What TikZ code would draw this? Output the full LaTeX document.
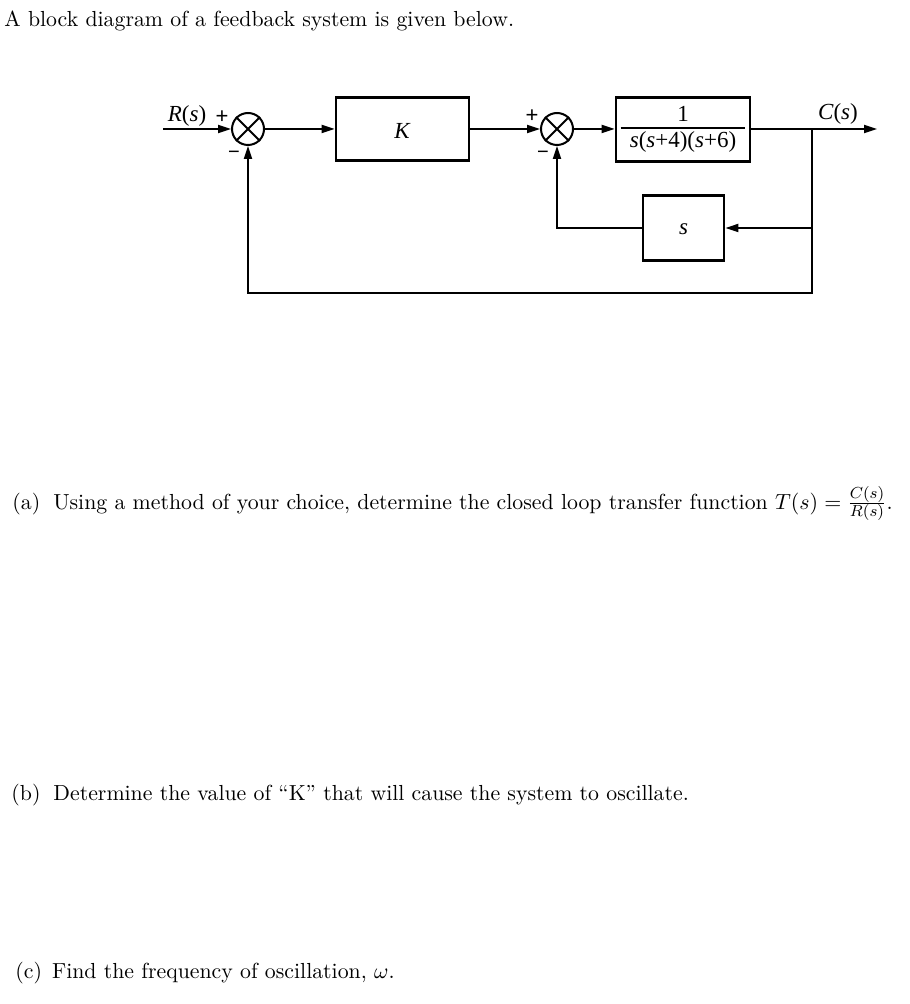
\documentclass[tikz,border=0pt]{standalone}
\usepackage{fontspec}
\newfontfamily\tms{Liberation Serif}
\newfontfamily\arl{Liberation Sans}
\usetikzlibrary{arrows.meta,calc}
\begin{document}
\begin{tikzpicture}[x=0.5pt,y=-0.5pt,
  blk/.style={draw, line width=1.3pt, rectangle, inner sep=0},
  sumj/.style={draw, circle, line width=1pt, minimum size=16pt, inner sep=0},
  sig/.style={line width=0.9pt, -{Triangle[length=6.5pt,width=4pt]}},
  lab/.style={font=\tms\fontsize{11.5}{13}\selectfont, inner sep=0},
  pm/.style={font=\arl\fontsize{11}{12}\selectfont, inner sep=0},
  mn/.style={font=\arl\fontsize{10}{11}\selectfont, inner sep=0},
  txt/.style={anchor=base west, inner sep=0, font=\fontsize{10.9}{13}\selectfont}]
\path (0,0) rectangle (909,1004);
% blocks
\node[sumj] (s1) at (248,129) {};
\draw[line width=1pt] (s1.north west) -- (s1.south east) (s1.north east) -- (s1.south west);
\node[blk, minimum width=66.5pt, minimum height=31.5pt] (kb) at (402.5,129) {};
\node[lab] (kt) at (402,131) {\itshape K};
\node[sumj] (s2) at (557,129) {};
\draw[line width=1pt] (s2.north west) -- (s2.south east) (s2.north east) -- (s2.south west);
\node[blk, minimum width=67pt, minimum height=32pt] (gb) at (683,129.5) {};
\node[lab, anchor=base] (gn) at (683,122) {1};
\draw[line width=0.8pt] ($(gb.west)+(6,-1.5)$) -- ($(gb.east)+(-6,-1.5)$);
\node[lab, anchor=base] (gd) at (683,148) {\itshape s\upshape(\itshape s\upshape+4)(\itshape s\upshape+6)};
\node[blk, minimum width=40.5pt, minimum height=32.5pt] (hb) at (683.5,228) {};
\node[lab] (ht) at (683.5,229) {\itshape s};
% coordinates
\coordinate (in) at (163,129);
\coordinate (out) at (877,129);
\coordinate (br) at (812,129);
\coordinate (fb) at (812,293);
% connectors
\draw[sig] (in) -- (s1);
\draw[sig] (s1) -- (kb);
\draw[sig] (kb) -- (s2);
\draw[sig] (s2) -- (gb.west |- s2);
\draw[sig] (gb.east |- br) -- (out);
\draw[sig] (br) |- (hb);
\draw[sig] (hb) -| (s2);
\draw[sig] (br) -- (fb) -| (s1);
% labels
\node[lab] (rl) at (187,116) {\itshape R\upshape(\itshape s\upshape)};
\node[lab] (cl) at (838,114) {\itshape C\upshape(\itshape s\upshape)};
\node[pm] (p1) at (222,117) {+};
\node[mn] (m1) at (234,155) {−};
\node[pm] (p2) at (532,116) {+};
\node[mn] (m2) at (543,155) {−};
% text
\node[txt] (t0) at (4,27) {A block diagram of a feedback system is given below.};
\node[txt] (ta) at (12,509) {(a)\hspace{6.5pt}Using a method of your choice, determine the closed loop transfer function $T(s)=\frac{C(s)}{R(s)}$.};
\node[txt] (tb) at (11,800) {(b)\hspace{6.5pt}Determine the value of ``K'' that will cause the system to oscillate.};
\node[txt] (tc) at (15,978) {(c)\hspace{5pt}Find the frequency of oscillation, $\omega$.};
\end{tikzpicture}
\end{document}
